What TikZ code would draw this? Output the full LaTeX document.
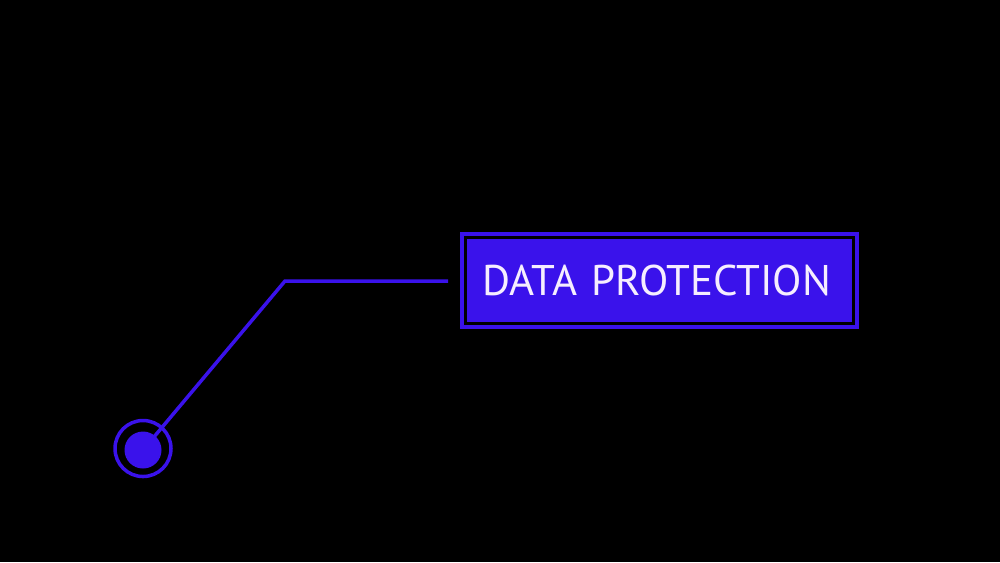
\documentclass[tikz,border=0pt]{standalone}
\usepackage{fontspec}
\setmainfont{PT Sans}
\usepackage{xcolor}
\usetikzlibrary{positioning, fit}
\definecolor{callblue}{RGB}{58,18,235}
\definecolor{textwhite}{RGB}{246,238,255}
\tikzset{
  labelbox/.style={rectangle, fill=callblue, text=textwhite, text width=3.55cm, align=left, inner xsep=0.15cm, inner ysep=0pt, minimum height=0.83cm, font=\fontsize{12.2}{14}\selectfont},
  framebox/.style={rectangle, draw=callblue, line width=0.035cm, inner sep=0.045cm},
  wire/.style={draw=callblue, line width=0.035cm},
  ring/.style={circle, draw=callblue, line width=0.035cm, minimum size=0.56cm, inner sep=0pt},
  dot/.style={circle, fill=callblue, minimum size=0.37cm, inner sep=0pt}
}

\begin{document}
\begin{tikzpicture}
\fill[black] (0,0) rectangle (10,-5.62);
\useasboundingbox (0,0) rectangle (10,-5.62);

\node[labelbox] (label) at (6.595,-2.805) {DATA PROTECTION};
\node[framebox, fit=(label)] (frame) {};

% pointer with the end dot
\node[ring] (ringnode) at (1.43,-4.485) {};
\node[dot] (dotnode) at (1.43,-4.5) {};
\coordinate (start) at (4.48,-2.81);
\coordinate (bend) at (2.85,-2.81);

\draw[wire] (start) -- (bend) -- (dotnode.center);

\end{tikzpicture}
\end{document}
